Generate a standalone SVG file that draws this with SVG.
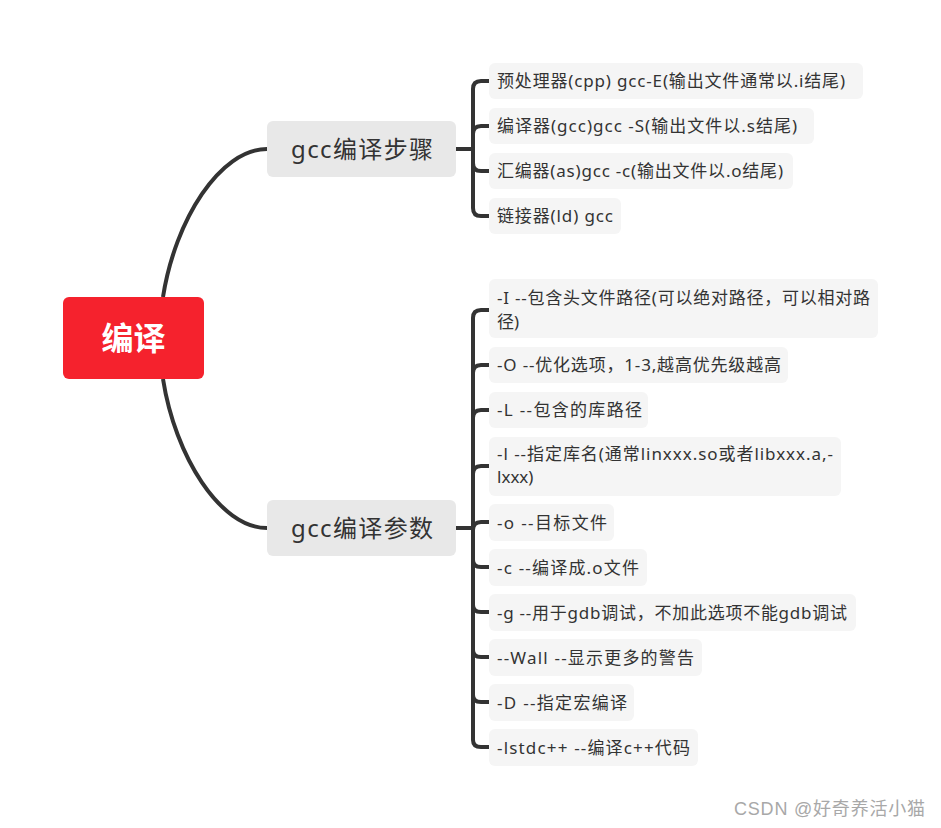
<svg xmlns="http://www.w3.org/2000/svg" width="941" height="828" viewBox="0 0 941 828">
<style>
.bg{fill:#ffffff}
.conn{fill:none;stroke:#333333;stroke-width:4;stroke-linecap:butt;stroke-linejoin:round}
.root{fill:#f5222d}
.rootT{font-family:"Noto Sans CJK SC","Noto Sans",sans-serif;font-weight:bold;font-size:32px;fill:#ffffff}
.br{fill:#e8e8e8}
.brT{font-family:"Noto Sans","Noto Sans CJK SC",sans-serif;font-size:24px;fill:#333333}
.ch{fill:#f5f5f5}
.chT{font-family:"Noto Sans","Noto Sans CJK SC",sans-serif;font-size:17px;fill:#333333}
.wm{font-family:"Liberation Sans","Noto Sans CJK SC",sans-serif;font-size:18px;fill:#a8a8a8}
</style>
<rect class="bg" x="0" y="0" width="941" height="828"/>
<g id="connectors">
<path class="conn" d="M163,297 C175,220 220,149 267,149"/>
<path class="conn" d="M163,379 C175,456 220,528 267,528"/>
<path class="conn" d="M456,149 H473 V89 Q473,81 481,81 H489"/>
<path class="conn" d="M456,149 H473 V134 Q473,126 481,126 H489"/>
<path class="conn" d="M456,149 H473 V163 Q473,171 481,171 H489"/>
<path class="conn" d="M456,149 H473 V208 Q473,216 481,216 H489"/>
<path class="conn" d="M456,528 H473 V318 Q473,310 481,310 H489"/>
<path class="conn" d="M456,528 H473 V373 Q473,365 481,365 H489"/>
<path class="conn" d="M456,528 H473 V418 Q473,410 481,410 H489"/>
<path class="conn" d="M456,528 H473 V474 Q473,466 481,466 H489"/>
<path class="conn" d="M456,528 H473 V530 Q473,522 481,522 H489"/>
<path class="conn" d="M456,528 H473 V560 Q473,567 481,567 H489"/>
<path class="conn" d="M456,528 H473 V605 Q473,612 481,612 H489"/>
<path class="conn" d="M456,528 H473 V650 Q473,657 481,657 H489"/>
<path class="conn" d="M456,528 H473 V695 Q473,702 481,702 H489"/>
<path class="conn" d="M456,528 H473 V740 Q473,747 481,747 H489"/>
</g>
<g id="root">
<rect class="root" x="63" y="297" width="141" height="82" rx="6"/>
<text class="rootT" x="133.5" y="350" text-anchor="middle">编译</text>
</g>
<g id="branch-steps">
<rect class="br" x="267" y="121" width="189" height="56" rx="6"/>
<text class="brT" x="291" y="157.5" textLength="142">gcc编译步骤</text>
</g>
<g id="branch-params">
<rect class="br" x="267" y="500" width="189" height="56" rx="6"/>
<text class="brT" x="291" y="536.5" textLength="142">gcc编译参数</text>
</g>
<g id="s1"><rect class="ch" x="489" y="63" width="374" height="36" rx="6"/><text class="chT" x="497" y="87" textLength="348">预处理器(cpp) gcc-E(输出文件通常以.i结尾)</text></g>
<g id="s2"><rect class="ch" x="489" y="108" width="325" height="36" rx="6"/><text class="chT" x="497" y="132" textLength="300">编译器(gcc)gcc -S(输出文件以.s结尾)</text></g>
<g id="s3"><rect class="ch" x="489" y="153" width="304" height="36" rx="6"/><text class="chT" x="497" y="177" textLength="286">汇编器(as)gcc -c(输出文件以.o结尾)</text></g>
<g id="s4"><rect class="ch" x="489" y="198" width="132" height="36" rx="6"/><text class="chT" x="497" y="222" textLength="116">链接器(ld) gcc</text></g>
<g id="p1"><rect class="ch" x="489" y="279" width="389" height="59" rx="6"/><text class="chT"><tspan x="497" y="304" textLength="373">-I --包含头文件路径(可以绝对路径，可以相对路</tspan><tspan x="497" y="327.5">径)</tspan></text></g>
<g id="p2"><rect class="ch" x="489" y="347" width="299" height="36" rx="6"/><text class="chT" x="497" y="371" textLength="284">-O --优化选项，1-3,越高优先级越高</text></g>
<g id="p3"><rect class="ch" x="489" y="392" width="159" height="36" rx="6"/><text class="chT" x="497" y="416" textLength="145">-L --包含的库路径</text></g>
<g id="p4"><rect class="ch" x="489" y="437" width="352" height="59" rx="6"/><text class="chT"><tspan x="497" y="459.5" textLength="336">-l --指定库名(通常linxxx.so或者libxxx.a,-</tspan><tspan x="497" y="483">lxxx)</tspan></text></g>
<g id="p5"><rect class="ch" x="489" y="504" width="125" height="37" rx="6"/><text class="chT" x="497" y="528.5" textLength="110">-o --目标文件</text></g>
<g id="p6"><rect class="ch" x="489" y="549" width="158" height="37" rx="6"/><text class="chT" x="497" y="573.5" textLength="142">-c --编译成.o文件</text></g>
<g id="p7"><rect class="ch" x="489" y="594" width="367" height="37" rx="6"/><text class="chT" x="497" y="618.5" textLength="350">-g --用于gdb调试，不加此选项不能gdb调试</text></g>
<g id="p8"><rect class="ch" x="489" y="639" width="213" height="37" rx="6"/><text class="chT" x="497" y="663.5" textLength="197">--Wall --显示更多的警告</text></g>
<g id="p9"><rect class="ch" x="489" y="684" width="145" height="37" rx="6"/><text class="chT" x="497" y="708.5" textLength="130">-D --指定宏编译</text></g>
<g id="p10"><rect class="ch" x="489" y="729" width="209" height="37" rx="6"/><text class="chT" x="497" y="753.5" textLength="193">-lstdc++ --编译c++代码</text></g>
<text class="wm" x="734" y="815" textLength="191">CSDN @好奇养活小猫</text>
</svg>
